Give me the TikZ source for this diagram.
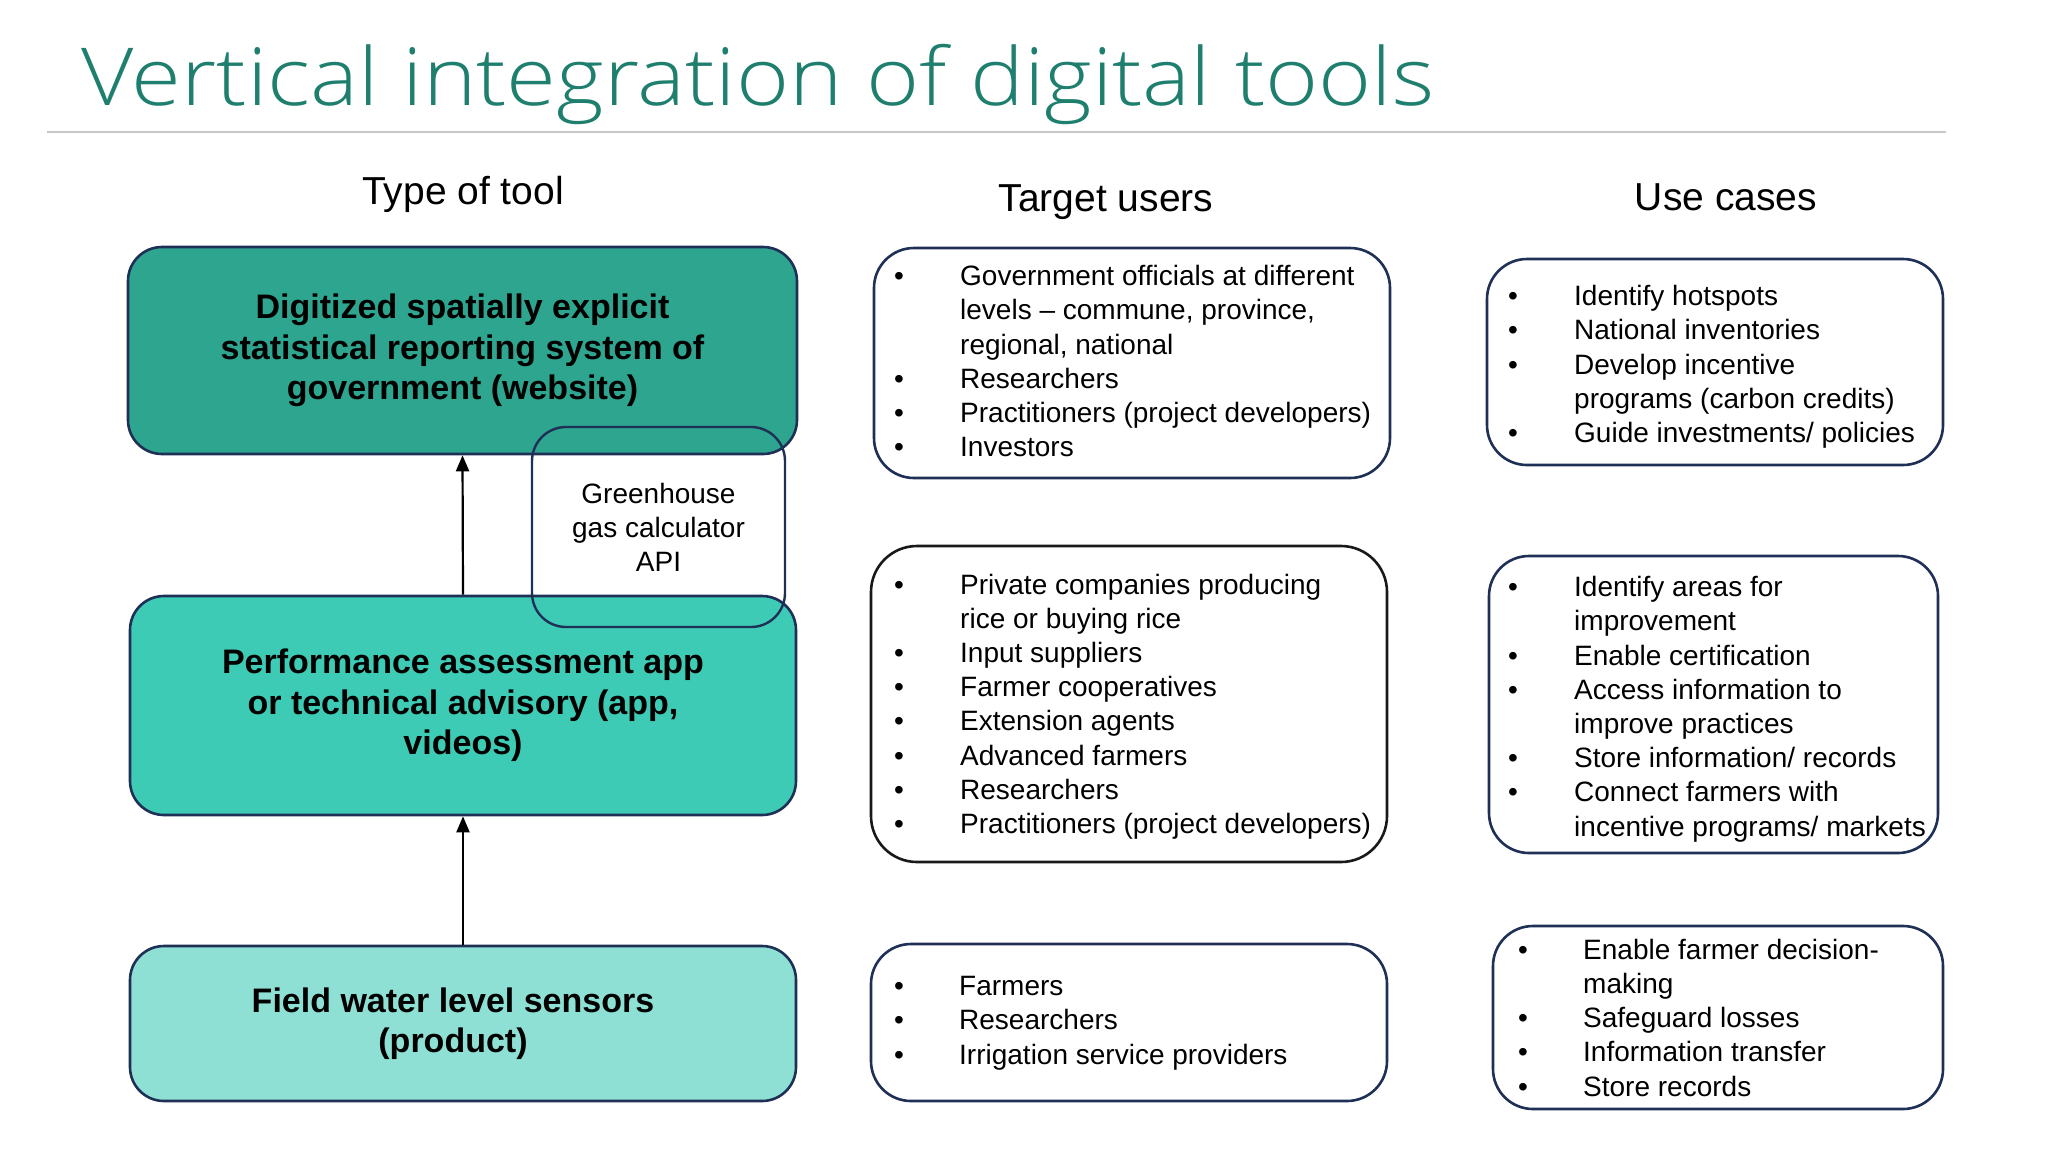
\documentclass[tikz,border=0pt]{standalone}
\usepackage{fontspec}
\usepackage{graphicx}
\setmainfont{Liberation Sans}
\newfontfamily\titlefont{Open Sans Light}
\usetikzlibrary{arrows.meta}
\definecolor{titlecol}{HTML}{1F7F6E}
\definecolor{navy}{HTML}{1F3056}
\definecolor{topfill}{HTML}{2DA58F}
\definecolor{midfill}{HTML}{3DCBB6}
\definecolor{botfill}{HTML}{8FE0D4}
\definecolor{rulecol}{HTML}{C8C8C8}
\begin{document}
\begin{tikzpicture}[x=1pt,y=-1pt,
  toolbox/.style={draw=navy, line width=2.6pt, rounded corners=34pt, inner sep=0pt, align=center, font=\fontsize{34}{40.5}\selectfont\bfseries},
  listbox/.style={draw=navy, line width=2.6pt, rounded corners=40pt, inner sep=0pt},
  listtext/.style={anchor=base west, inner sep=0pt, font=\fontsize{28}{34.2}\selectfont},
  header/.style={anchor=base, inner sep=0pt, font=\fontsize{39}{46}\selectfont},
  arr/.style={line width=2.2pt, -{Triangle[length=16pt,width=13pt]}}
]
\useasboundingbox (0,0) rectangle (2048,1152);
\fill[white] (0,0) rectangle (2048,1152);

% title and rule
\node[anchor=base west, inner sep=0pt, text=titlecol] (title) at (81,105)
  {\resizebox{1353pt}{\height}{\titlefont\fontsize{80}{96}\selectfont Vertical integration of digital tools}};
\coordinate (ruleL) at (47,132);
\coordinate (ruleR) at (1946,132);
\draw[rulecol, line width=2pt] (ruleL) -- (ruleR);

% headers
\node[header] (h1) at (463,204) {Type of tool};
\node[header] (h2) at (1106,211.7) {Target users};
\node[header] (h3) at (1726,210.7) {Use cases};

% tool boxes
\node[toolbox, fill=topfill, minimum width=669pt, minimum height=207pt] (top) at (462.5,350.5)
  {Digitized spatially explicit\\statistical reporting system of\\government (website)};
\node[toolbox, fill=midfill, minimum width=666pt, minimum height=219pt] (mid) at (463,705.5)
  {Performance assessment app\\or technical advisory (app,\\videos)};
\node[toolbox, fill=botfill, minimum width=666pt, minimum height=155pt] (bot) at (463,1023.5)
  {Field water level sensors\hspace*{20pt}\\(product)\hspace*{20pt}};

% arrows
\draw[arr] (bot.north) -- (mid.south);
\draw[arr] (mid.north) -- (top.south);

% greenhouse box (no fill, overlaps)
\node[draw=navy, line width=2.4pt, rounded corners=34pt, inner sep=0pt, align=center,
      minimum width=253pt, minimum height=200pt, font=\fontsize{28}{34}\selectfont] (ghg) at (658.5,527)
  {Greenhouse\\gas calculator\\API};

% target users boxes
\node[listbox, minimum width=516pt, minimum height=230pt] (t1) at (1132,363) {};
\node[listbox, draw=black!90, rounded corners=46pt, minimum width=516pt, minimum height=316pt] (t2) at (1129,704) {};
\node[listbox, minimum width=516pt, minimum height=157pt] (t3) at (1129,1022.5) {};

\node[listtext] (t1l) at (894,285.7) {\begin{tabular}[t]{@{}p{66pt}@{}l@{}}
• & Government officials at different\\
  & levels – commune, province,\\
  & regional, national\\
• & Researchers\\
• & Practitioners (project developers)\\
• & Investors
\end{tabular}};

\node[listtext] (t2l) at (894,594) {\begin{tabular}[t]{@{}p{66pt}@{}l@{}}
• & Private companies producing\\
  & rice or buying rice\\
• & Input suppliers\\
• & Farmer cooperatives\\
• & Extension agents\\
• & Advanced farmers\\
• & Researchers\\
• & Practitioners (project developers)
\end{tabular}};

\node[listtext] (t3l) at (894,995.7) {\begin{tabular}[t]{@{}p{65pt}@{}l@{}}
• & Farmers\\
• & Researchers\\
• & Irrigation service providers
\end{tabular}};

% use case boxes
\node[listbox, minimum width=456pt, minimum height=206pt] (u1) at (1715,362) {};
\node[listbox, minimum width=449pt, minimum height=297pt] (u2) at (1713.5,704.5) {};
\node[listbox, minimum width=450pt, minimum height=183pt] (u3) at (1718,1017.5) {};

\node[listtext] (u1l) at (1508,305.7) {\begin{tabular}[t]{@{}p{66pt}@{}l@{}}
• & Identify hotspots\\
• & National inventories\\
• & Develop incentive\\
  & programs (carbon credits)\\
• & Guide investments/ policies
\end{tabular}};

\node[listtext] (u2l) at (1508,596.7) {\begin{tabular}[t]{@{}p{66pt}@{}l@{}}
• & Identify areas for\\
  & improvement\\
• & Enable certification\\
• & Access information to\\
  & improve practices\\
• & Store information/ records\\
• & Connect farmers with\\
  & incentive programs/ markets
\end{tabular}};

\node[listtext] (u3l) at (1518,959.3) {\begin{tabular}[t]{@{}p{65pt}@{}l@{}}
• & Enable farmer decision-\\
  & making\\
• & Safeguard losses\\
• & Information transfer\\
• & Store records
\end{tabular}};
\end{tikzpicture}
\end{document}
